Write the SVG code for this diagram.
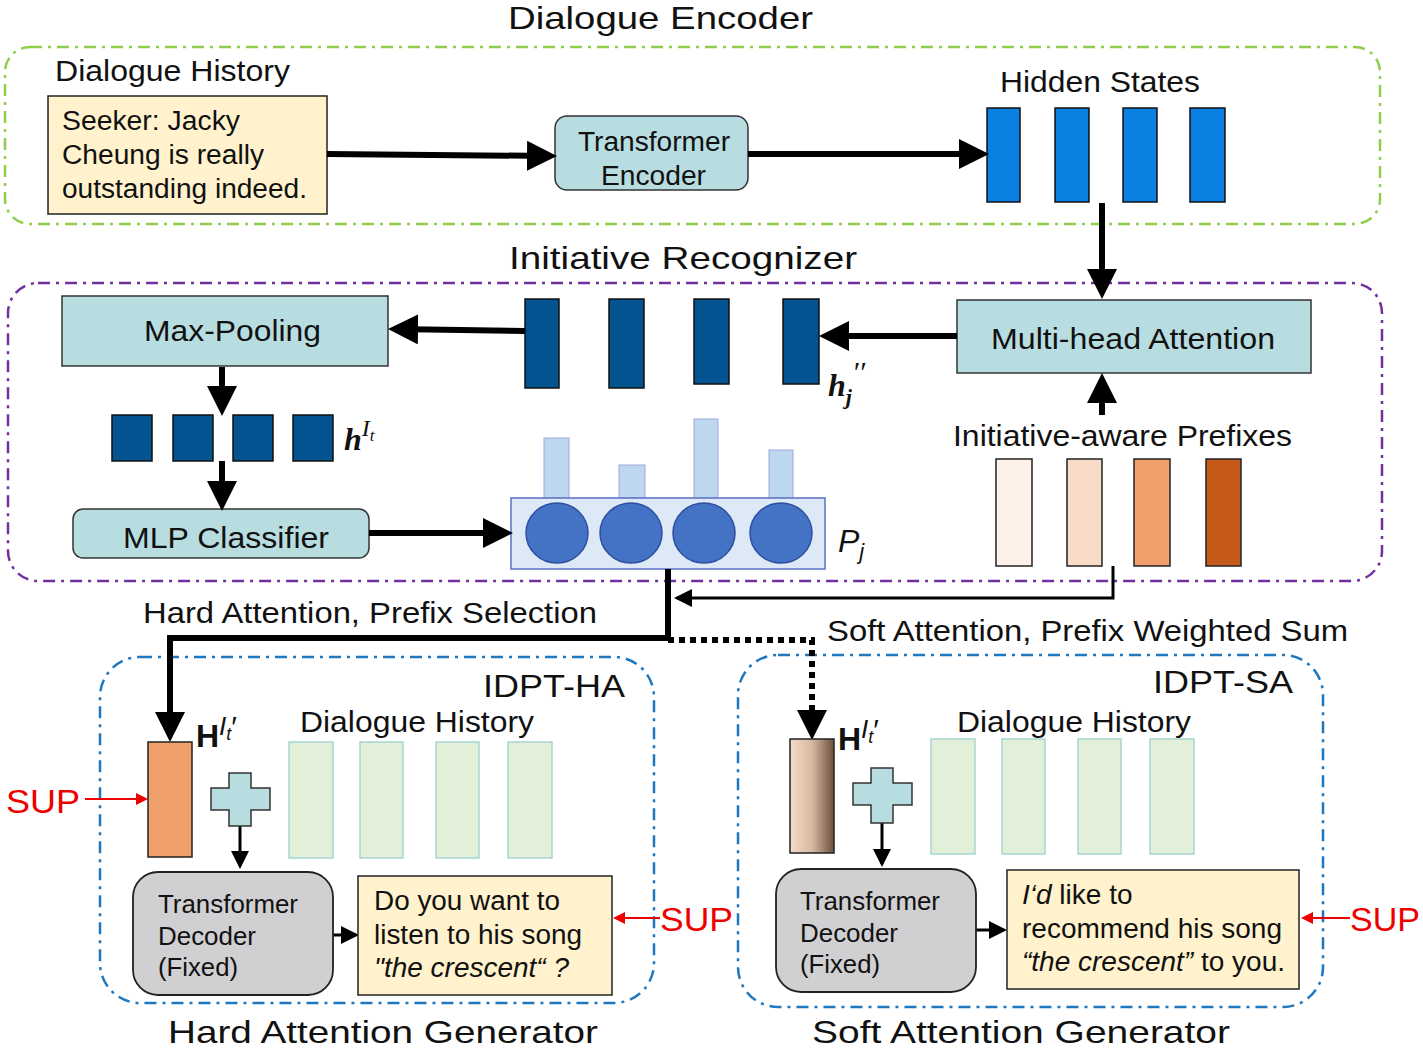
<svg xmlns="http://www.w3.org/2000/svg" width="1423" height="1051" viewBox="0 0 1423 1051">
<defs>
<style>
text{font-family:"Liberation Sans",Arial,sans-serif;fill:#111}
.t{font-size:29px}
.big{font-size:32px}
.m{font-family:"Liberation Serif","DejaVu Serif",serif;font-weight:bold;font-style:italic;font-size:32px}
.c{fill:#b8dde1;stroke:#333;stroke-width:1.5}
.db{fill:#02538f;stroke:#111;stroke-width:1.5}
.hb{fill:#0b80e3;stroke:#111;stroke-width:1.5}
.gr{fill:#e2efd9;stroke:#a6d6cf;stroke-width:1.5}
.y{fill:#fff2cc;stroke:#222;stroke-width:1.5}
.dec{fill:#d0cfd1;stroke:#222;stroke-width:1.8}
.ln{stroke:#000;stroke-width:6;fill:none}
.ln3{stroke:#000;stroke-width:3;fill:none}
.red{stroke:#e00;stroke-width:2;fill:none}
.sup{fill:#e00;font-size:33px}
</style>
<marker id="a" markerWidth="5" markerHeight="5" refX="4" refY="2.5" orient="auto" markerUnits="strokeWidth"><path d="M0,0 L5,2.5 L0,5Z" fill="#000"/></marker>
<marker id="a3" markerWidth="6" markerHeight="6" refX="5" refY="3" orient="auto" markerUnits="strokeWidth"><path d="M0,0 L6,3 L0,6Z" fill="#000"/></marker>
<marker id="r" markerWidth="6" markerHeight="6" refX="5" refY="3" orient="auto" markerUnits="strokeWidth"><path d="M0,0 L6,3 L0,6Z" fill="#e00"/></marker>
<linearGradient id="g" x1="0" x2="1"><stop offset="0" stop-color="#f4dccb"/><stop offset="0.5" stop-color="#d8b8a0"/><stop offset="1" stop-color="#6e4f3c"/></linearGradient>
</defs>

<g id="containers" fill="none">
<rect x="5" y="47" width="1375" height="177" rx="25" stroke="#8fce4a" stroke-width="2.5" stroke-dasharray="12,6,3,6"/>
<rect x="8" y="283" width="1374" height="298" rx="30" stroke="#7030a0" stroke-width="2.5" stroke-dasharray="12,6,3,6"/>
<rect x="100" y="657" width="554" height="346" rx="40" stroke="#1f77c0" stroke-width="2.5" stroke-dasharray="12,6,3,6"/>
<rect x="738" y="655" width="585" height="352" rx="40" stroke="#1f77c0" stroke-width="2.5" stroke-dasharray="12,6,3,6"/>
<text x="508" y="29" class="big" textLength="305" lengthAdjust="spacingAndGlyphs">Dialogue Encoder</text>
<text x="509" y="269" class="big" textLength="348" lengthAdjust="spacingAndGlyphs">Initiative Recognizer</text>
<text x="483" y="697" class="big" textLength="142" lengthAdjust="spacingAndGlyphs">IDPT-HA</text>
<text x="1153" y="693" class="big" textLength="140" lengthAdjust="spacingAndGlyphs">IDPT-SA</text>
<text x="168" y="1043" class="big" textLength="430" lengthAdjust="spacingAndGlyphs">Hard Attention Generator</text>
<text x="812" y="1043" class="big" textLength="418" lengthAdjust="spacingAndGlyphs">Soft Attention Generator</text>
</g>

<g id="dialogue-history">
<text x="55" y="81" class="t" textLength="235" lengthAdjust="spacingAndGlyphs">Dialogue History</text>
<rect x="48" y="96" width="279" height="118" class="y"/>
<text x="62" y="130" font-size="27" textLength="178" lengthAdjust="spacingAndGlyphs">Seeker: Jacky</text>
<text x="62" y="164" font-size="27" textLength="202" lengthAdjust="spacingAndGlyphs">Cheung is really</text>
<text x="62" y="198" font-size="27" textLength="245" lengthAdjust="spacingAndGlyphs">outstanding indeed.</text>
</g>

<g id="transformer-encoder">
<rect x="555" y="116" width="193" height="74" rx="12" class="c"/>
<text x="578" y="151" font-size="27" textLength="152" lengthAdjust="spacingAndGlyphs">Transformer</text>
<text x="601" y="185" font-size="27" textLength="105" lengthAdjust="spacingAndGlyphs">Encoder</text>
</g>

<g id="hidden-states">
<text x="1000" y="92" class="t" textLength="200" lengthAdjust="spacingAndGlyphs">Hidden States</text>
<rect x="987" y="108" width="33" height="94" class="hb"/>
<rect x="1055" y="108" width="34" height="94" class="hb"/>
<rect x="1123" y="108" width="34" height="94" class="hb"/>
<rect x="1190" y="108" width="35" height="94" class="hb"/>
</g>

<g id="multihead">
<rect x="957" y="300" width="354" height="73" class="c"/>
<text x="991" y="349" class="t" textLength="284" lengthAdjust="spacingAndGlyphs">Multi-head Attention</text>
</g>

<g id="hj">
<rect x="525" y="299" width="34" height="89" class="db"/>
<rect x="609" y="299" width="35" height="89" class="db"/>
<rect x="694" y="299" width="35" height="85" class="db"/>
<rect x="783" y="299" width="36" height="85" class="db"/>
<text x="828" y="396" class="m">h<tspan font-size="22" dy="8">j</tspan><tspan dy="-22" font-size="30" font-weight="normal">′′</tspan></text>
</g>

<g id="maxpool">
<rect x="62" y="296" width="326" height="70" class="c"/>
<text x="144" y="341" class="t" textLength="177" lengthAdjust="spacingAndGlyphs">Max-Pooling</text>
</g>

<g id="hIt">
<rect x="112" y="415" width="40" height="46" class="db"/>
<rect x="173" y="415" width="40" height="46" class="db"/>
<rect x="233" y="415" width="40" height="46" class="db"/>
<rect x="293" y="415" width="40" height="46" class="db"/>
<text x="344" y="450" class="m">h<tspan font-size="24" dy="-14" font-weight="normal">I</tspan><tspan font-size="17" dy="5" font-weight="normal">t</tspan></text>
</g>

<g id="mlp">
<rect x="73" y="509" width="296" height="49" rx="10" class="c"/>
<text x="123" y="548" class="t" textLength="206" lengthAdjust="spacingAndGlyphs">MLP Classifier</text>
</g>

<g id="pj">
<rect x="544" y="438" width="25" height="60" fill="#bdd7ee" stroke="#a0a8e0"/>
<rect x="619" y="465" width="26" height="33" fill="#bdd7ee" stroke="#a0a8e0"/>
<rect x="694" y="419" width="24" height="79" fill="#bdd7ee" stroke="#a0a8e0"/>
<rect x="769" y="450" width="24" height="48" fill="#bdd7ee" stroke="#a0a8e0"/>
<rect x="511" y="498" width="314" height="71" fill="#dde9f7" stroke="#5b6fc7" stroke-width="1.5"/>
<ellipse cx="557" cy="533" rx="31" ry="30" fill="#4472c4" stroke="#2f4f9f" stroke-width="1.5"/>
<ellipse cx="631" cy="533" rx="31" ry="30" fill="#4472c4" stroke="#2f4f9f" stroke-width="1.5"/>
<ellipse cx="704" cy="533" rx="31" ry="30" fill="#4472c4" stroke="#2f4f9f" stroke-width="1.5"/>
<ellipse cx="781" cy="533" rx="31" ry="30" fill="#4472c4" stroke="#2f4f9f" stroke-width="1.5"/>
<text x="838" y="552" font-family="Liberation Serif,serif" font-style="italic" font-size="32">P<tspan font-size="22" dy="7">j</tspan></text>
</g>

<g id="prefixes">
<text x="953" y="446" class="t" textLength="339" lengthAdjust="spacingAndGlyphs">Initiative-aware Prefixes</text>
<rect x="996" y="459" width="36" height="107" fill="#fdf1e9" stroke="#222" stroke-width="1.5"/>
<rect x="1067" y="459" width="35" height="107" fill="#f9dcc8" stroke="#222" stroke-width="1.5"/>
<rect x="1134" y="459" width="36" height="107" fill="#f0a06b" stroke="#222" stroke-width="1.5"/>
<rect x="1206" y="459" width="35" height="107" fill="#c55a1a" stroke="#222" stroke-width="1.5"/>
</g>

<g id="connectors">
<line x1="327" y1="154" x2="551" y2="156" class="ln" marker-end="url(#a)"/>
<line x1="748" y1="154" x2="983" y2="154" class="ln" marker-end="url(#a)"/>
<line x1="1102" y1="203" x2="1102" y2="293" class="ln" marker-end="url(#a)"/>
<line x1="525" y1="331" x2="394" y2="329" class="ln" marker-end="url(#a)"/>
<line x1="957" y1="336" x2="825" y2="336" class="ln" marker-end="url(#a)"/>
<line x1="1102" y1="415" x2="1102" y2="379" class="ln" marker-end="url(#a)"/>
<line x1="222" y1="367" x2="222" y2="410" class="ln" marker-end="url(#a)"/>
<line x1="222" y1="461" x2="222" y2="505" class="ln" marker-end="url(#a)"/>
<line x1="369" y1="533" x2="507" y2="533" class="ln" marker-end="url(#a)"/>
<polyline points="1113,566 1113,598 677,598" class="ln3" marker-end="url(#a3)"/>
<polyline points="668,569 668,638 170,638 170,736" class="ln" marker-end="url(#a)"/>
<polyline points="668,640 812,640 812,734" class="ln" stroke-dasharray="6,5" marker-end="url(#a)"/>
<line x1="240" y1="826" x2="240" y2="866" class="ln3" marker-end="url(#a3)"/>
<line x1="882" y1="823" x2="882" y2="864" class="ln3" marker-end="url(#a3)"/>
<line x1="333" y1="935" x2="356" y2="935" class="ln3" marker-end="url(#a3)"/>
<line x1="976" y1="930" x2="1004" y2="930" class="ln3" marker-end="url(#a3)"/>
<line x1="85" y1="799" x2="146" y2="799" class="red" marker-end="url(#r)"/>
<line x1="660" y1="918" x2="615" y2="918" class="red" marker-end="url(#r)"/>
<line x1="1350" y1="918" x2="1303" y2="918" class="red" marker-end="url(#r)"/>
<text x="143" y="623" class="t" textLength="454" lengthAdjust="spacingAndGlyphs">Hard Attention, Prefix Selection</text>
<text x="827" y="641" class="t" textLength="521" lengthAdjust="spacingAndGlyphs">Soft Attention, Prefix Weighted Sum</text>
</g>

<g id="ha-generator">
<rect x="148" y="742" width="44" height="115" fill="#f0a06b" stroke="#222" stroke-width="1.5"/>
<text x="196" y="747" font-family="Liberation Serif,serif" font-weight="bold" font-size="32">H<tspan font-style="italic" font-weight="normal" font-size="26" dy="-12">I</tspan><tspan font-style="italic" font-weight="normal" font-size="18" dy="5">t</tspan><tspan font-weight="normal" font-size="30" dy="-3">′</tspan></text>
<path d="M229,773 H251 V788 H270 V810 H251 V826 H229 V810 H211 V788 H229Z" class="c"/>
<text x="300" y="732" class="t" textLength="234" lengthAdjust="spacingAndGlyphs">Dialogue History</text>
<rect x="289" y="742" width="44" height="116" class="gr"/>
<rect x="360" y="742" width="43" height="116" class="gr"/>
<rect x="436" y="742" width="43" height="116" class="gr"/>
<rect x="508" y="742" width="44" height="116" class="gr"/>
<rect x="133" y="872" width="200" height="123" rx="25" class="dec"/>
<text x="158" y="913" font-size="25" textLength="140" lengthAdjust="spacingAndGlyphs">Transformer</text>
<text x="158" y="945" font-size="25" textLength="98" lengthAdjust="spacingAndGlyphs">Decoder</text>
<text x="158" y="976" font-size="25" textLength="80" lengthAdjust="spacingAndGlyphs">(Fixed)</text>
<rect x="358" y="876" width="254" height="119" class="y"/>
<text x="374" y="910" font-size="27" textLength="186" lengthAdjust="spacingAndGlyphs">Do you want to</text>
<text x="374" y="944" font-size="27" textLength="208" lengthAdjust="spacingAndGlyphs">listen to his song</text>
<text x="374" y="977" font-size="27" font-style="italic" textLength="195" lengthAdjust="spacingAndGlyphs">"the crescent“ ?</text>
<text x="6" y="813" class="sup" textLength="74" lengthAdjust="spacingAndGlyphs">SUP</text>
<text x="660" y="931" class="sup" textLength="73" lengthAdjust="spacingAndGlyphs">SUP</text>
</g>

<g id="sa-generator">
<rect x="790" y="739" width="44" height="114" fill="url(#g)" stroke="#222" stroke-width="1.5"/>
<text x="838" y="750" font-family="Liberation Serif,serif" font-weight="bold" font-size="32">H<tspan font-style="italic" font-weight="normal" font-size="26" dy="-12">I</tspan><tspan font-style="italic" font-weight="normal" font-size="18" dy="5">t</tspan><tspan font-weight="normal" font-size="30" dy="-3">′</tspan></text>
<path d="M871,768 H893 V783 H912 V805 H893 V823 H871 V805 H853 V783 H871Z" class="c"/>
<text x="957" y="732" class="t" textLength="234" lengthAdjust="spacingAndGlyphs">Dialogue History</text>
<rect x="931" y="739" width="44" height="115" class="gr"/>
<rect x="1002" y="739" width="43" height="115" class="gr"/>
<rect x="1078" y="739" width="43" height="115" class="gr"/>
<rect x="1150" y="739" width="44" height="115" class="gr"/>
<rect x="776" y="869" width="200" height="123" rx="25" class="dec"/>
<text x="800" y="910" font-size="25" textLength="140" lengthAdjust="spacingAndGlyphs">Transformer</text>
<text x="800" y="942" font-size="25" textLength="98" lengthAdjust="spacingAndGlyphs">Decoder</text>
<text x="800" y="973" font-size="25" textLength="80" lengthAdjust="spacingAndGlyphs">(Fixed)</text>
<rect x="1007" y="870" width="292" height="119" class="y"/>
<text x="1022" y="904" font-size="28"><tspan font-style="italic">I‘d</tspan> like to</text>
<text x="1022" y="938" font-size="27" textLength="260" lengthAdjust="spacingAndGlyphs">recommend his song</text>
<text x="1022" y="971" font-size="27" textLength="263" lengthAdjust="spacingAndGlyphs"><tspan font-style="italic">“the crescent”</tspan> to you.</text>
<text x="1350" y="931" class="sup" textLength="70" lengthAdjust="spacingAndGlyphs">SUP</text>
</g>
</svg>
